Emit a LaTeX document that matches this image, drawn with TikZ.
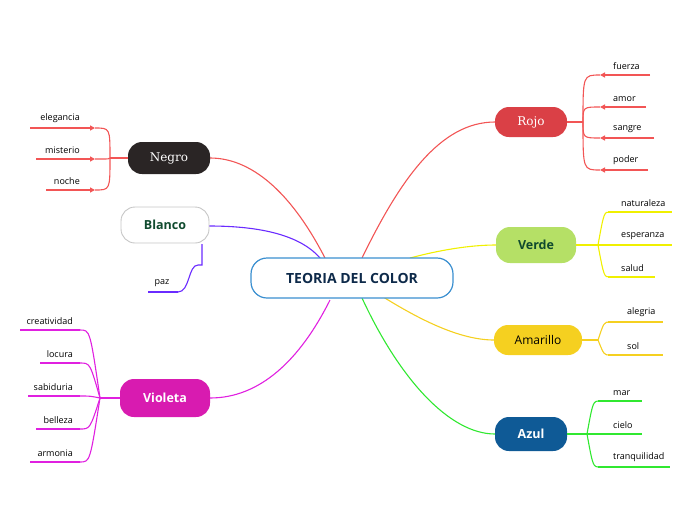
\documentclass[tikz,border=0pt]{standalone}
\usepackage{fontspec}
\setmainfont{Open Sans}
\newfontfamily\slab{DejaVu Serif}
\usetikzlibrary{arrows.meta}
\definecolor{cred}{HTML}{F25555}
\definecolor{cpur}{HTML}{6A2BFF}
\definecolor{cmag}{HTML}{E020E0}
\definecolor{cyel}{HTML}{F0F000}
\definecolor{cgold}{HTML}{F5D020}
\definecolor{cgrn}{HTML}{30E830}
\definecolor{navy}{HTML}{0E2A4A}
\definecolor{dgreen}{HTML}{0F4A2E}
\definecolor{frojo}{HTML}{DA4046}
\definecolor{fnegro}{HTML}{2A2525}
\definecolor{fverde}{HTML}{B5E066}
\definecolor{fazul}{HTML}{0F5A96}
\definecolor{fviol}{HTML}{D81BB0}
\definecolor{cblue}{HTML}{3A8FD0}
\tikzset{x=1pt,y=-1pt,
 topic/.style={rounded corners=14pt,minimum height=32pt,inner sep=0pt},
 lbl/.style={font=\fontsize{9}{11}\selectfont,inner sep=1pt},
 br/.style={line width=1.1pt},
 leaf/.style={line width=1.9pt},
 arr/.style={-{Triangle[length=5pt,width=5pt]}}}
\begin{document}
\begin{tikzpicture}
\useasboundingbox (0,0) rectangle (696,520);
\draw[cred,br] (362,258) .. controls (400,180) and (440,122) .. (495,122);
\draw[cred,br] (325,258) .. controls (290,190) and (250,158) .. (210,158);
\draw[cpur,br] (320,258) .. controls (300,235) and (260,226) .. (209,226);
\draw[cmag,br] (330,300) .. controls (300,360) and (260,398) .. (210,398);
\draw[cyel,br] (410,258) .. controls (440,250) and (470,245) .. (496,245);
\draw[cgold,br] (380,295) .. controls (420,320) and (460,340) .. (494,340);
\draw[cgrn,br] (362,298) .. controls (400,380) and (450,434) .. (495,434);
\node[topic,draw=cblue,line width=1.2pt,fill=white,minimum width=202pt,minimum height=40pt,rounded corners=16pt,font={\fontsize{14}{16}\selectfont\bfseries},text=navy] (center) at (352,278) {TEORIA DEL COLOR};
\node[topic,fill=frojo,text=white,minimum width=72pt,minimum height=30pt,font={\slab\fontsize{12}{14}\selectfont}] (rojo) at (531,122) {Rojo};
\node[topic,fill=fnegro,text=white,minimum width=82pt,font={\slab\fontsize{12}{14}\selectfont}] (negro) at (169,158) {Negro};
\node[topic,draw=gray!45,line width=0.9pt,fill=white,text=dgreen,minimum width=88pt,minimum height=36pt,font={\fontsize{12.5}{15}\selectfont\bfseries}] (blanco) at (165,225) {Blanco};
\node[topic,fill=fverde,text=dgreen,minimum width=80pt,minimum height=36pt,font={\fontsize{12.5}{15}\selectfont\bfseries}] (verde) at (536,245) {Verde};
\node[topic,fill=cgold,text=black,minimum width=88pt,minimum height=30pt,font={\fontsize{12}{14}\selectfont}] (amarillo) at (538,340) {Amarillo};
\node[topic,fill=fazul,text=white,minimum width=72pt,minimum height=34pt,font={\fontsize{12.5}{15}\selectfont\bfseries}] (azul) at (531,434) {Azul};
\node[topic,fill=fviol,text=white,minimum width=90pt,minimum height=38pt,font={\fontsize{12.5}{15}\selectfont\bfseries}] (violeta) at (165,398) {Violeta};
% Rojo
\coordinate (rj) at (583,122);
\draw[cred,br] (rojo.east) -- (rj);
\foreach \y/\e/\t in {75/650/fuerza,107/646/amor,138/654/sangre,170/648/poder}{
 \draw[cred,br] (rj) .. controls (583,\y) .. (600,\y);
 \draw[cred,leaf,arr] (\e,\y) -- (600,\y);
 \node[lbl,anchor=south west] at (612,\y-4) {\t};}
% Negro
\coordinate (ng) at (110,158);
\draw[cred,br] (negro.west) -- (ng);
\foreach \y/\s/\t in {128/30/elegancia,159/36/misterio,190/46/noche}{
 \draw[cred,br] (ng) .. controls (110,\y) .. (95,\y);
 \draw[cred,leaf,arr] (\s,\y) -- (95,\y);
 \node[lbl,anchor=south east] at (81,\y-4) {\t};}
% Blanco
\coordinate (bl) at (202,244);
\draw[cpur,br] (bl) -- (202,265) -- (198,265) .. controls (188,265) and (190,292) .. (178,292);
\draw[cpur,leaf] (178,292) -- (148,292);
\node[lbl,anchor=south] at (162,288) {paz};
% Verde
\coordinate (vd) at (598,245);
\draw[cyel,br] (verde.east) -- (vd);
\foreach \y/\e/\t in {212/672/naturaleza,245/672/esperanza,277/655/salud}{
 \draw[cyel,br] (vd) .. controls (604,\y) .. (610,\y);
 \draw[cyel,leaf] (608,\y) -- (\e,\y);
 \node[lbl,anchor=south west] at (620,\y-4) {\t};}
% Amarillo
\coordinate (am) at (598,340);
\draw[cgold,br] (amarillo.east) -- (am);
\foreach \y/\t in {322/alegria,355/sol}{
 \draw[cgold,br] (am) .. controls (604,\y) .. (610,\y);
 \draw[cgold,leaf] (608,\y) -- (663,\y);
 \node[lbl,anchor=south west] at (626,\y-4) {\t};}
% Azul
\coordinate (az) at (587,434);
\draw[cgrn,br] (azul.east) -- (az);
\foreach \y/\e/\t in {401/642/mar,434/642/cielo,467/670/tranquilidad}{
 \draw[cgrn,br] (az) .. controls (593,\y) .. (600,\y);
 \draw[cgrn,leaf] (598,\y) -- (\e,\y);
 \node[lbl,anchor=south west] at (612,\y-4) {\t};}
% Violeta
\coordinate (vi) at (100,398);
\draw[cmag,br] (violeta.west) -- (vi);
\foreach \y/\s/\t in {330/20/creatividad,363/40/locura,396/28/sabiduria,429/36/belleza,462/30/armonia}{
 \draw[cmag,br] (vi) .. controls (90,\y) .. (80,\y);
 \draw[cmag,leaf] (\s,\y) -- (80,\y);
 \node[lbl,anchor=south east] at (74,\y-4) {\t};}
\end{tikzpicture}
\end{document}
